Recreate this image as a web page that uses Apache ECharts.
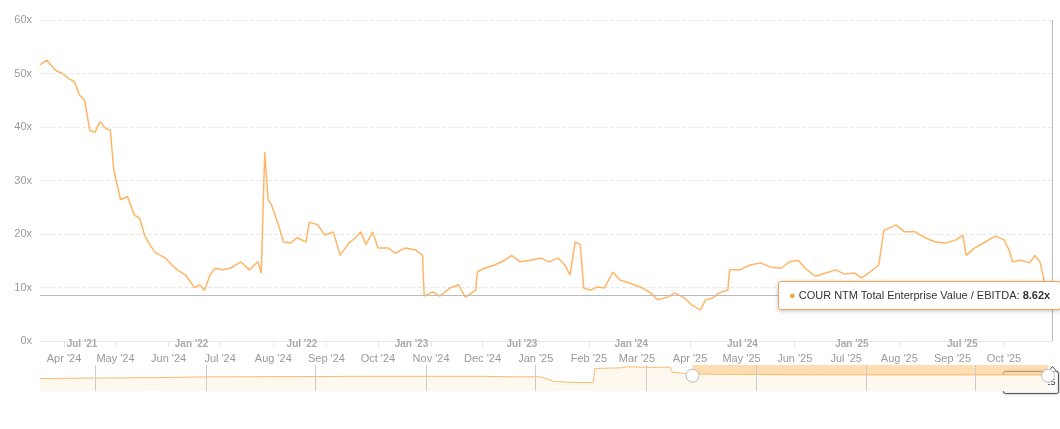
<!DOCTYPE html>
<html>
<head>
<meta charset="utf-8">
<script src="https://cdn.jsdelivr.net/npm/echarts@6/dist/echarts.min.js"></script>
<style>html,body{margin:0;padding:0;background:#fff}#chart{width:1060px;height:429px}</style>
</head>
<body>
<div id="chart"></div>
<script>
// days since 2024-03-18
const dayOffsets = [0,4,9,13,17,20,23,26,29,32,35,38,41,43,47,51,55,58,61,64,67,73,77,80,85,87,90,93,96,99,102,106,111,117,122,127,129,131,133,135,139,142,146,150,155,157,162,166,171,175,180,184,187,190,194,197,203,207,213,219,223,224,229,233,239,244,248,254,255,259,265,271,275,280,286,292,297,302,306,309,312,315,317,321,325,329,334,338,344,350,356,360,366,370,376,380,385,388,392,396,401,402,408,414,420,426,432,437,442,446,452,458,464,469,475,479,484,489,492,495,499,504,510,516,522,528,534,538,540,545,551,557,562,565,567,572,577,580,583,586,590];
const multiples = [51.6,52.5,50.6,50,49,48.5,46,45,39.4,39,41,39.8,39.4,32,26.4,27,23.5,23,19.8,18,16.6,15.5,14.2,13.3,12.3,11.4,10,10.5,9.5,12.3,13.6,13.3,13.6,14.8,13.3,14.8,12.7,35.3,26.4,25.4,21.7,18.5,18.3,19.3,18.5,22.2,21.7,19.8,20.4,16,18.3,19.3,20.4,18,20.4,17.4,17.4,16.4,17.4,17,16,8.4,9.2,8.4,9.9,10.5,8.2,9.5,12.9,13.6,14.2,15.1,16,14.8,15.1,15.5,14.8,15.5,14.2,12.3,18.5,18,9.9,9.5,10.1,9.9,12.9,11.4,10.8,10.1,9,7.7,8.2,9,8,6.7,5.8,7.7,8,9,9.5,13.3,13.3,14.2,14.6,13.8,13.6,14.8,15.1,13.6,12.1,12.7,13.3,12.5,12.7,11.8,12.9,14.2,20.7,21.1,21.7,20.4,20.4,19.3,18.5,18.3,18.9,19.8,16,17.4,18.5,19.6,18.9,17,14.8,15.1,14.6,16,14.8,10.5,8.62];
const yTicks = [0,10,20,30,40,50,60];
// overview strip (long history)
const overviewDates = ['2021-03-31','2021-07-01','2021-10-01','2022-01-01','2022-06-01','2022-10-01','2023-01-01','2023-04-01','2023-06-01','2023-07-10','2023-08-01','2023-09-01','2023-10-05','2023-10-08','2023-11-20','2023-12-01','2024-01-01','2024-02-10','2024-02-14','2024-03-18','2024-07-01','2025-01-01','2025-07-01','2025-10-29'];
const overviewValues = [22,23,23.5,25,25.5,26,26,26,25,25,17,15,15,40,41,43,42,42,33,30,29,28.5,28.5,28.5];
const overviewTicks = ['2021-07-01','2022-01-01','2022-07-01','2023-01-01','2023-07-01','2024-01-01','2024-07-01','2025-01-01','2025-07-01'];

const DAY = 86400000;
const t0 = Date.UTC(2024,2,18);
const mainData = dayOffsets.map((d,i)=>[t0+d*DAY, multiples[i]]);
const months = ['Jan','Feb','Mar','Apr','May','Jun','Jul','Aug','Sep','Oct','Nov','Dec'];
const fmt = v => { const d=new Date(v); return months[d.getUTCMonth()]+" '"+String(d.getUTCFullYear()).slice(2); };
const selStart = Date.UTC(2024,2,18), selEnd = Date.UTC(2025,9,29);

const chart = echarts.init(document.getElementById('chart'));
chart.setOption({
  animation:false,
  textStyle:{fontFamily:'Arial, Liberation Sans, sans-serif'},
  grid:[
    {left:40,right:8,top:20,bottom:88},
    {left:40,right:12,top:365,bottom:38}
  ],
  xAxis:[{
    type:'time', gridIndex:0, min:t0, max:t0+590*DAY,
    minInterval:28*DAY, maxInterval:31*DAY,
    axisLine:{lineStyle:{color:'#e6e6e6'}},
    axisTick:{show:true,length:6,lineStyle:{color:'#e6e6e6'}},
    axisLabel:{color:'#999',fontSize:11,formatter:fmt,margin:12,hideOverlap:true},
    splitLine:{show:false}
  },{
    type:'time', gridIndex:1, min:Date.UTC(2021,2,31), max:Date.UTC(2025,9,29),
    axisLine:{show:false}, axisTick:{show:false}, axisLabel:{show:false}, splitLine:{show:false}
  }],
  yAxis:[{
    type:'value', gridIndex:0, min:0, max:60, interval:10,
    axisLabel:{color:'#999',fontSize:11,formatter:v=>yTicks.includes(v)?v+'x':''},
    splitLine:{lineStyle:{color:'#e8e8e8',type:'dashed'}},
    axisLine:{show:false}, axisTick:{show:false}
  },{
    type:'value', gridIndex:1, min:0, max:46, show:false
  }],
  tooltip:{
    trigger:'axis', alwaysShowContent:true, showContent:true,
    axisPointer:{type:'cross',lineStyle:{color:'#bbb',type:'solid'},crossStyle:{color:'#bbb',type:'solid'},
      label:{show:false}},
    backgroundColor:'#fff', borderColor:'#f5a55a', borderWidth:1, padding:[5,10],
    extraCssText:'box-shadow:0 1px 4px rgba(0,0,0,0.25);border-radius:3px;',
    textStyle:{fontSize:11,color:'#333'},
    position:(p)=>[p[0]-274,p[1]-14],
    formatter:ps=>{const p=ps.find(q=>q.seriesIndex===0)||ps[0];return '<span style="color:#f5a55a">●</span> COUR NTM Total Enterprise Value / EBITDA: <b>'+p.value[1].toFixed(2)+'x</b>';}
  },
  series:[{
    type:'line', xAxisIndex:0, yAxisIndex:0, data:mainData, showSymbol:false, symbol:'circle', symbolSize:7,
    lineStyle:{color:'#f6a55c',width:1.5}, itemStyle:{color:'#f6a55c',borderColor:'#fde3c8',borderWidth:4},
    emphasis:{scale:false,focus:'none'}
  },{
    type:'line', xAxisIndex:1, yAxisIndex:1, data:overviewDates.map((d,i)=>[d,overviewValues[i]]),
    showSymbol:false, lineStyle:{color:'#f8bb70',width:1}, areaStyle:{color:'#fff8ee',opacity:1}, tooltip:{show:false},
    silent:true, emphasis:{disabled:true},
    markLine:{silent:true,symbol:'none',lineStyle:{color:'#ccc',type:'solid',width:1},
      label:{show:true,position:'insideEndBottom',formatter:p=>fmt(p.value),color:'#aaa',fontSize:10,fontWeight:'bold',distance:[-2,-26],rotate:0},
      data:overviewTicks.map(d=>({xAxis:d}))},
    markArea:{silent:true,itemStyle:{color:'rgba(253,200,125,0.6)'},data:[[{xAxis:selStart},{xAxis:selEnd}]]},
    markPoint:{silent:true,symbol:'circle',symbolSize:13,itemStyle:{color:'#fff',borderColor:'#bbb',borderWidth:1},label:{show:false},
      data:[{coord:[selStart,27]},{coord:[selEnd,27]}]}
  }],
  graphic:[
    {type:'group',left:1003,top:366,z:100,children:[
      {type:'rect',shape:{x:0,y:0,width:55,height:22,r:2},style:{fill:'#fff',stroke:'#555',lineWidth:1,shadowBlur:3,shadowColor:'rgba(0,0,0,0.3)'}},
      {type:'polygon',shape:{points:[[45,0],[49,-5],[53,0]]},style:{fill:'#fff',stroke:'#555'}},
      {type:'rect',shape:{x:45.5,y:0,width:7,height:1.5},style:{fill:'#fff'}},
      {type:'text',style:{x:27.5,y:11,text:'Oct 29 2025',align:'center',verticalAlign:'middle',fontSize:9,fill:'#333'}}
    ]}
  ]
});
chart.dispatchAction({type:'showTip',seriesIndex:0,dataIndex:multiples.length-1});
</script>
</body>
</html>
